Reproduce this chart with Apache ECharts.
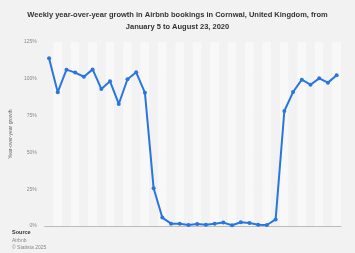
<!DOCTYPE html>
<html>
<head>
<meta charset="utf-8">
<script src="https://cdn.jsdelivr.net/npm/echarts@6/dist/echarts.min.js"></script>
<style>
  html, body { margin: 0; padding: 0; background: #f2f2f2; }
  #chart { width: 355px; height: 253px; }
</style>
</head>
<body>
<div id="chart"></div>
<script>
// weeks from January 5 to August 23, 2020
const weeks = [
  'Jan 5', 'Jan 12', 'Jan 19', 'Jan 26', 'Feb 2', 'Feb 9', 'Feb 16', 'Feb 23',
  'Mar 1', 'Mar 8', 'Mar 15', 'Mar 22', 'Mar 29', 'Apr 5', 'Apr 12', 'Apr 19',
  'Apr 26', 'May 3', 'May 10', 'May 17', 'May 24', 'May 31', 'Jun 7', 'Jun 14',
  'Jun 21', 'Jun 28', 'Jul 5', 'Jul 12', 'Jul 19', 'Jul 26', 'Aug 2', 'Aug 9',
  'Aug 16', 'Aug 23'
]
// year-over-year growth (%)
const growth = [
  113.9, 90.9, 106.2, 104.2, 101.4, 106.4, 93.1, 98.3,
  82.9, 99.7, 104.4, 90.6, 25.6, 5.7, 1.6, 1.6,
  0.7, 1.4, 0.9, 1.6, 2.3, 0.5, 2.5, 2.0,
  0.9, 0.7, 4.5, 78.1, 91.0, 99.4, 96.0, 100.3,
  97.4, 102.4
]
const yTicks = [0, 25, 50, 75, 100, 125]

const chart = echarts.init(document.getElementById('chart'))
chart.setOption({
  backgroundColor: '#f2f2f2',
  animation: false,
  title: {
    text: 'Weekly year-over-year growth in Airbnb bookings in Cornwal, United Kingdom, from\nJanuary 5 to August 23, 2020',
    left: 'center',
    top: 4,
    textStyle: {
      fontFamily: 'Liberation Sans',
      fontSize: 7.5,
      fontWeight: 'bold',
      color: '#333',
      lineHeight: 12
    }
  },
  graphic: [
    {
      type: 'text', left: 12, top: 229,
      style: { text: 'Source', font: 'bold 5.5px Liberation Sans', fill: '#333' }
    },
    {
      type: 'text', left: 12, top: 237,
      style: { text: 'Airbnb\n© Statista 2025', font: '5px Liberation Sans', fill: '#888', lineHeight: 7 }
    }
  ],
  grid: { left: 44, right: 14, top: 42, bottom: 27 },
  xAxis: {
    type: 'category',
    data: weeks,
    boundaryGap: true,
    axisLine: { show: true, lineStyle: { color: '#bbbbbb', width: 1 } },
    axisTick: { show: false },
    axisLabel: { show: false, interval: 0 },
    splitArea: { show: true, interval: 0, areaStyle: { color: ['rgba(242,242,242,1)', '#f8f8f8'] } }
  },
  yAxis: {
    type: 'value',
    min: yTicks[0],
    max: yTicks[yTicks.length - 1],
    interval: 25,
    name: 'Year-over-year growth',
    nameLocation: 'middle',
    nameGap: 23,
    nameTextStyle: { fontFamily: 'Liberation Sans', fontSize: 5, color: '#666' },
    axisLine: { show: false },
    axisTick: { show: false },
    axisLabel: {
      margin: 8,
      fontFamily: 'Liberation Sans',
      fontSize: 5,
      color: '#888',
      formatter: '{value}%'
    },
    splitLine: { lineStyle: { color: '#dedede', width: 1 } }
  },
  series: [
    {
      type: 'line',
      data: growth,
      symbol: 'circle',
      symbolSize: 4,
      lineStyle: { color: '#2a76dc', width: 2 },
      itemStyle: { color: '#2a76dc' }
    }
  ]
})
</script>
</body>
</html>
